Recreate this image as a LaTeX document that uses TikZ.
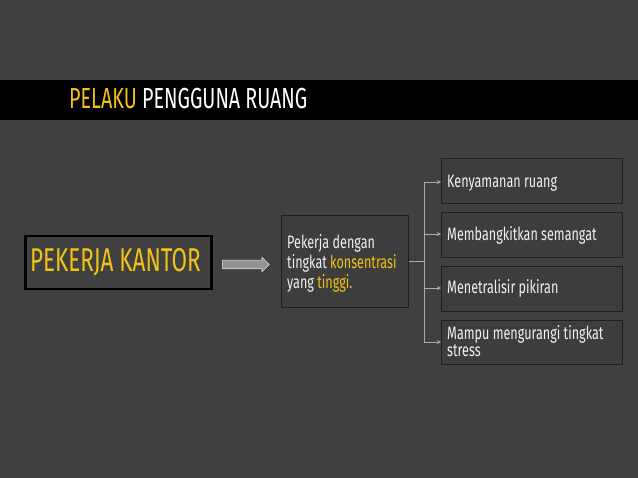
\documentclass[tikz,border=0pt]{standalone}
\usepackage{fontspec}
\setmainfont[FakeStretch=0.7]{Fira Sans}
\newfontfamily\bignarrow[FakeStretch=0.68]{Fira Sans}
\usetikzlibrary{shapes.arrows,arrows.meta}
\definecolor{bg}{RGB}{64,64,64}
\definecolor{gold}{RGB}{242,194,20}
\definecolor{boxfill}{RGB}{61,61,61}
\definecolor{edge}{RGB}{30,30,30}
\definecolor{conn}{RGB}{170,170,170}
\definecolor{txt}{RGB}{240,240,240}
\tikzset{
  rbox/.style={draw=edge, line width=1pt, fill=boxfill, minimum width=181pt, minimum height=45pt, anchor=north west, inner sep=0pt},
  rtext/.style={text=txt, font=\fontsize{18}{17}\selectfont, anchor=base west, align=left, inner sep=0pt},
  link/.style={draw=conn, line width=0.8pt},
  linkarrow/.style={link, -{Stealth[length=4pt,width=4pt]}},
}
\begin{document}
\begin{tikzpicture}[x=1pt,y=-1pt]
\fill[bg] (0,0) rectangle (638,478);
\useasboundingbox (0,0) rectangle (638,478);
\fill[black] (0,80) rectangle (638,120);
\node[anchor=base west, inner sep=0pt, font=\bignarrow\fontsize{29}{30}\selectfont] (title) at (69,108.5)
  {\textcolor{gold}{PELAKU} \textcolor{white}{PENGGUNA RUANG}};
% left box
\node[draw=black, line width=2.5pt, fill=bg, minimum width=186pt, minimum height=53pt, anchor=north west, inner sep=0pt] (pk) at (24,235) {};
\node[anchor=base west, inner sep=0pt, text=gold, font=\bignarrow\fontsize{33}{34}\selectfont] (pkt) at (30,272) {PEKERJA KANTOR};
% arrow
\node[single arrow, draw=white!70!gray, fill=gray!85!white, line width=0.6pt, minimum height=47pt, inner xsep=0pt, inner ysep=4pt, single arrow head extend=3pt, single arrow head indent=0pt, anchor=west] (arr) at (222,264.5) {};
% middle box
\node[draw=edge, line width=1pt, fill=boxfill, minimum width=127pt, minimum height=92pt, anchor=north west, inner sep=0pt] (mid) at (281,215) {};
\node[anchor=north west, inner sep=0pt, align=left, text=txt, font=\fontsize{18}{20}\selectfont] (midt) at (287,234)
  {Pekerja dengan\\tingkat \textcolor{gold}{konsentrasi}\\yang \textcolor{gold}{tinggi.}};
% right boxes
\node[rbox] (b1) at (441,158) {};
\node[rbox] (b2) at (441,212) {};
\node[rbox] (b3) at (441,266) {};
\node[rbox, minimum height=44pt] (b4) at (441,320) {};
\node[rtext] (t1) at (447,188) {Kenyamanan ruang};
\node[rtext] (t2) at (447,240.5) {Membangkitkan semangat};
\node[rtext] (t3) at (447,294) {Menetralisir pikiran};
\node[rtext, anchor=north west] (t4) at (447,325) {Mampu mengurangi tingkat\\stress};
% connectors
\coordinate (j) at (424,261);
\coordinate (jt) at (424,182);
\coordinate (jb) at (424,342);
\draw[link] (mid.east |- j) -- (j);
\draw[link] (jt) -- (jb);
\draw[linkarrow] (jt) -- (b1.west |- jt);
\draw[linkarrow] (424,234) -- (b2.west |- 0,234);
\draw[linkarrow] (424,288) -- (b3.west |- 0,288);
\draw[linkarrow] (jb) -- (b4.west |- jb);
\end{tikzpicture}
\end{document}
